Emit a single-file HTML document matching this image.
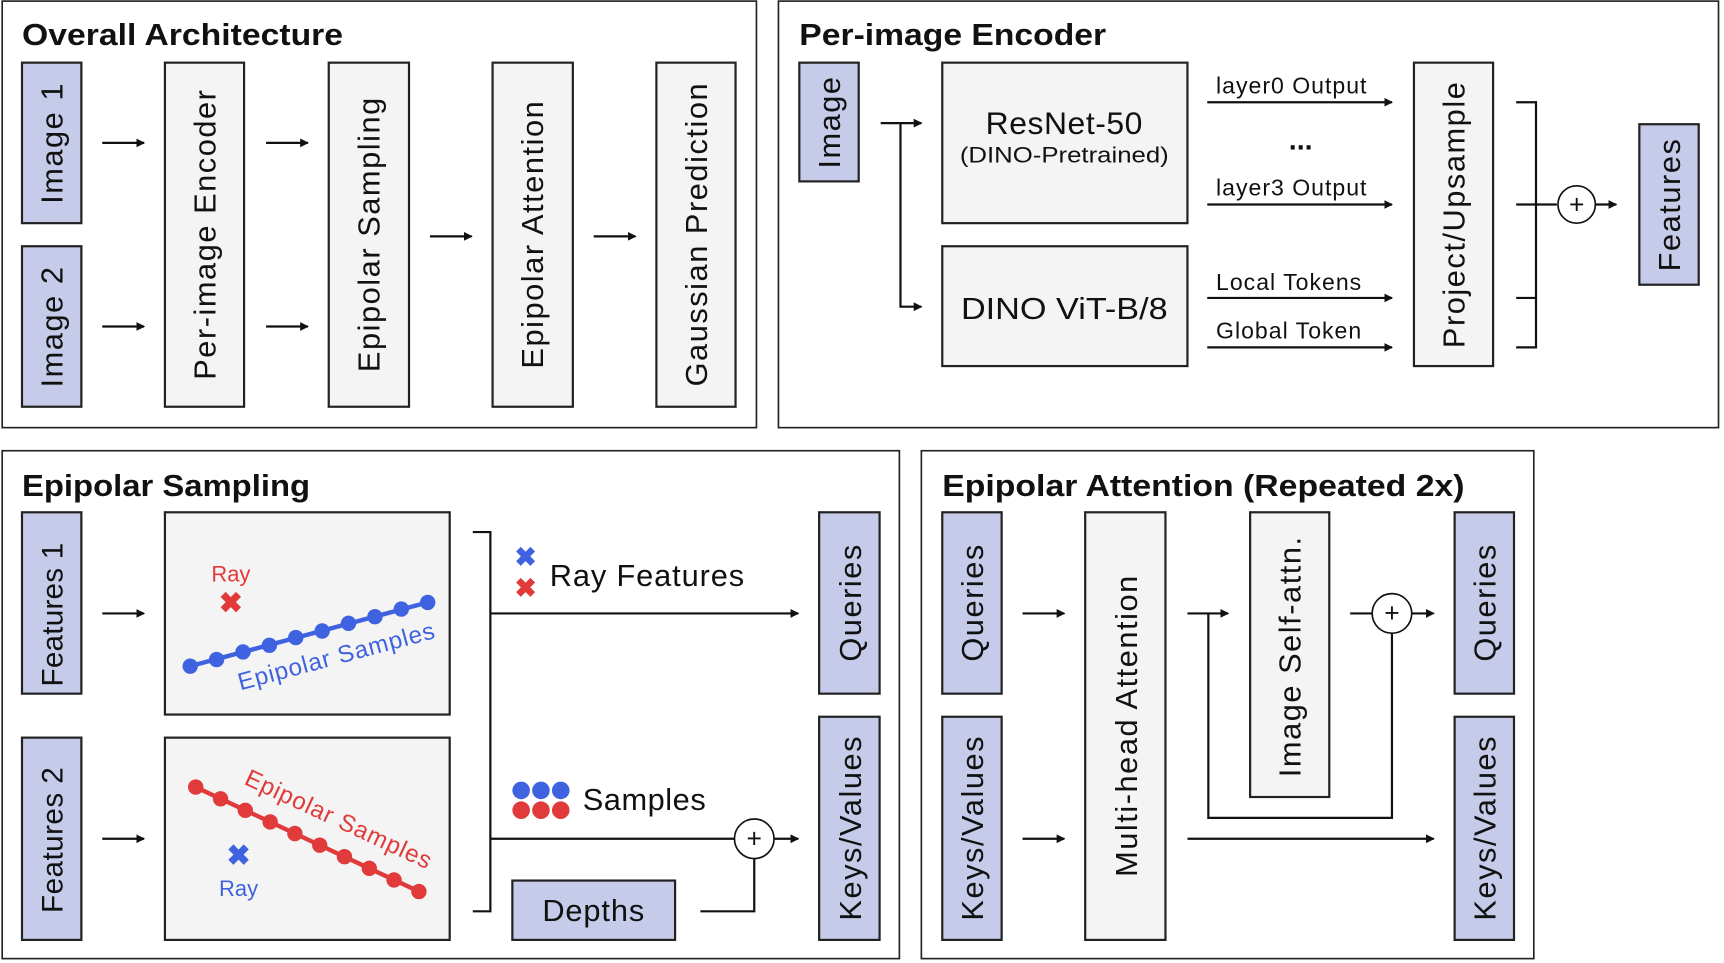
<!DOCTYPE html>
<html><head><meta charset="utf-8"><style>
html,body{margin:0;padding:0;background:#fff;}
svg{display:block;}
text{font-family:"Liberation Sans",sans-serif;fill:#111;}
.t{font-weight:bold;font-size:28px;}
.v{font-size:28px;letter-spacing:1.4px;}
.s{font-size:21px;letter-spacing:0.9px;}
.p{fill:#c5cbe8;stroke:#222;stroke-width:2;}
.g{fill:#f4f4f4;stroke:#222;stroke-width:2;}
.f{fill:none;stroke:#222;stroke-width:1.5;}
.l{fill:none;stroke:#111;stroke-width:2;}
</style></head><body>
<svg width="1724" height="963" viewBox="0 0 1568 876" preserveAspectRatio="none">
<defs><marker id="a" markerWidth="8" markerHeight="8" refX="7" refY="4" orient="auto" markerUnits="userSpaceOnUse"><path d="M0,0 L8,4 L0,8 z" fill="#111"/></marker></defs>
<!-- Panel 1 -->
<rect x="2" y="1" width="686" height="388" class="f"/>
<text x="20" y="41" class="t" textLength="292" lengthAdjust="spacingAndGlyphs">Overall Architecture</text>
<rect x="20" y="57" width="54" height="146" class="p"/>
<text class="v" text-anchor="middle" transform="translate(57,130) rotate(-90)">Image 1</text>
<rect x="20" y="224" width="54" height="146" class="p"/>
<text class="v" text-anchor="middle" transform="translate(57,297) rotate(-90)">Image 2</text>
<rect x="150" y="57" width="72" height="313" class="g"/>
<text class="v" text-anchor="middle" transform="translate(196,213) rotate(-90)">Per-image Encoder</text>
<rect x="299" y="57" width="73" height="313" class="g"/>
<text class="v" text-anchor="middle" transform="translate(345,213) rotate(-90)">Epipolar Sampling</text>
<rect x="448" y="57" width="73" height="313" class="g"/>
<text class="v" text-anchor="middle" transform="translate(494,213) rotate(-90)">Epipolar Attention</text>
<rect x="597" y="57" width="72" height="313" class="g"/>
<text class="v" text-anchor="middle" transform="translate(643,213) rotate(-90)">Gaussian Prediction</text>
<g class="l" marker-end="url(#a)">
<line x1="93" y1="130" x2="131" y2="130"/><line x1="93" y1="297" x2="131" y2="297"/>
<line x1="242" y1="130" x2="280" y2="130"/><line x1="242" y1="297" x2="280" y2="297"/>
<line x1="391" y1="215" x2="429" y2="215"/><line x1="540" y1="215" x2="578" y2="215"/>
</g>
<!-- Panel 2 -->
<rect x="708" y="1" width="855" height="388" class="f"/>
<text x="727" y="41" class="t" textLength="279" lengthAdjust="spacingAndGlyphs">Per-image Encoder</text>
<rect x="727" y="57" width="54" height="108" class="p"/>
<text class="v" text-anchor="middle" transform="translate(764,111) rotate(-90)">Image</text>
<path d="M801,112 H838" class="l" marker-end="url(#a)"/>
<path d="M819,112 V279 H838" class="l" marker-end="url(#a)"/>
<rect x="857" y="57" width="223" height="146" class="g"/>
<text x="968" y="122" text-anchor="middle" style="font-size:29px;letter-spacing:0.5px">ResNet-50</text>
<text x="968" y="148" text-anchor="middle" style="font-size:20px" textLength="190" lengthAdjust="spacingAndGlyphs">(DINO-Pretrained)</text>
<rect x="857" y="224" width="223" height="109" class="g"/>
<text x="968" y="290" text-anchor="middle" style="font-size:28px" textLength="188" lengthAdjust="spacingAndGlyphs">DINO ViT-B/8</text>
<g class="l" marker-end="url(#a)">
<line x1="1098" y1="93" x2="1266" y2="93"/><line x1="1098" y1="186" x2="1266" y2="186"/>
<line x1="1098" y1="271" x2="1266" y2="271"/><line x1="1098" y1="316" x2="1266" y2="316"/>
</g>
<text x="1106" y="85" class="s">layer0 Output</text>
<text x="1183" y="136" text-anchor="middle" style="font-size:26px;font-weight:bold">...</text>
<text x="1106" y="178" class="s">layer3 Output</text>
<text x="1106" y="264" class="s">Local Tokens</text>
<text x="1106" y="308" class="s">Global Token</text>
<rect x="1286" y="57" width="72" height="276" class="g"/>
<text class="v" text-anchor="middle" transform="translate(1332,195) rotate(-90)">Project/Upsample</text>
<path d="M1379,93 H1397 V316 H1379 M1379,271 H1397 M1379,186 H1416" class="l"/>
<circle cx="1434" cy="186" r="17" fill="#fff" stroke="#111" stroke-width="1.5"/>
<text x="1434" y="194" text-anchor="middle" style="font-size:24px">+</text>
<path d="M1451,186 H1470" class="l" marker-end="url(#a)"/>
<rect x="1491" y="113" width="54" height="146" class="p"/>
<text class="v" text-anchor="middle" transform="translate(1528,186) rotate(-90)">Features</text>
<!-- Panel 3 -->
<rect x="2" y="410" width="816" height="462" class="f"/>
<text x="20" y="451" class="t" textLength="262" lengthAdjust="spacingAndGlyphs">Epipolar Sampling</text>
<rect x="20" y="466" width="54" height="165" class="p"/>
<text text-anchor="middle" transform="translate(57,559) rotate(-90)" style="font-size:27px;letter-spacing:0.2px">Features 1</text>
<rect x="20" y="671" width="54" height="184" class="p"/>
<text text-anchor="middle" transform="translate(57,764) rotate(-90)" style="font-size:27px;letter-spacing:0.4px">Features 2</text>
<g class="l" marker-end="url(#a)">
<line x1="93" y1="558" x2="131" y2="558"/><line x1="93" y1="763" x2="131" y2="763"/>
</g>
<rect x="150" y="466" width="259" height="184" class="g"/>
<rect x="150" y="671" width="259" height="184" class="g"/>
<line x1="173" y1="606" x2="389" y2="548" stroke="#3f63e0" stroke-width="4"/>
<g fill="#3f63e0">
<circle cx="173" cy="606" r="7"/><circle cx="197" cy="600" r="7"/><circle cx="221" cy="593" r="7"/><circle cx="245" cy="587" r="7"/><circle cx="269" cy="580" r="7"/><circle cx="293" cy="574" r="7"/><circle cx="317" cy="567" r="7"/><circle cx="341" cy="561" r="7"/><circle cx="365" cy="554" r="7"/><circle cx="389" cy="548" r="7"/>
</g>
<text x="210" y="529" text-anchor="middle" style="font-size:20px;fill:#e03a3a">Ray</text>
<text x="210" y="557" text-anchor="middle" style="font-size:26px;font-weight:bold;fill:#e03a3a">✖</text>
<text transform="translate(308,604) rotate(-15)" text-anchor="middle" style="font-size:22px;fill:#3f63e0;letter-spacing:0.8px">Epipolar Samples</text>
<line x1="178" y1="716" x2="381" y2="811" stroke="#e03a3a" stroke-width="4"/>
<g fill="#e03a3a">
<circle cx="178" cy="716" r="7"/><circle cx="200.6" cy="726.6" r="7"/><circle cx="223.1" cy="737.1" r="7"/><circle cx="245.7" cy="747.7" r="7"/><circle cx="268.2" cy="758.2" r="7"/><circle cx="290.8" cy="768.8" r="7"/><circle cx="313.3" cy="779.3" r="7"/><circle cx="335.9" cy="789.9" r="7"/><circle cx="358.4" cy="800.4" r="7"/><circle cx="381" cy="811" r="7"/>
</g>
<text transform="translate(305,752) rotate(25)" text-anchor="middle" style="font-size:22px;fill:#e03a3a;letter-spacing:0.8px">Epipolar Samples</text>
<text x="217" y="787" text-anchor="middle" style="font-size:26px;font-weight:bold;fill:#3f63e0">✖</text>
<text x="217" y="815" text-anchor="middle" style="font-size:20px;fill:#3f63e0">Ray</text>
<path d="M430,484 H446 V829 H430" class="l"/>
<path d="M446,558 H726" class="l" marker-end="url(#a)"/>
<path d="M446,763 H668" class="l"/>
<circle cx="686" cy="763" r="18" fill="#fff" stroke="#111" stroke-width="1.5"/>
<text x="686" y="771" text-anchor="middle" style="font-size:24px">+</text>
<path d="M704,763 H726" class="l" marker-end="url(#a)"/>
<path d="M637,829 H686 V781" class="l"/>
<rect x="466" y="801" width="148" height="54" class="p"/>
<text x="540" y="838" text-anchor="middle" style="font-size:28px;letter-spacing:0.8px">Depths</text>
<text x="478" y="515" text-anchor="middle" style="font-size:24px;font-weight:bold;fill:#3f63e0">✖</text>
<text x="478" y="543" text-anchor="middle" style="font-size:24px;font-weight:bold;fill:#e03a3a">✖</text>
<text x="500" y="533" style="font-size:28px;letter-spacing:0.8px">Ray Features</text>
<g fill="#3f63e0"><circle cx="474" cy="719" r="8"/><circle cx="492" cy="719" r="8"/><circle cx="510" cy="719" r="8"/></g>
<g fill="#e03a3a"><circle cx="474" cy="737" r="8"/><circle cx="492" cy="737" r="8"/><circle cx="510" cy="737" r="8"/></g>
<text x="530" y="737" style="font-size:28px;letter-spacing:0.5px">Samples</text>
<rect x="745" y="466" width="55" height="165" class="p"/>
<text class="v" text-anchor="middle" transform="translate(783,548) rotate(-90)">Queries</text>
<rect x="745" y="652" width="55" height="203" class="p"/>
<text class="v" text-anchor="middle" transform="translate(783,753) rotate(-90)">Keys/Values</text>
<!-- Panel 4 -->
<rect x="838" y="410" width="557" height="462" class="f"/>
<text x="857" y="451" class="t" textLength="475" lengthAdjust="spacingAndGlyphs">Epipolar Attention (Repeated 2x)</text>
<rect x="857" y="466" width="54" height="165" class="p"/>
<text class="v" text-anchor="middle" transform="translate(894,548) rotate(-90)">Queries</text>
<rect x="857" y="652" width="54" height="203" class="p"/>
<text class="v" text-anchor="middle" transform="translate(894,753) rotate(-90)">Keys/Values</text>
<g class="l" marker-end="url(#a)">
<line x1="930" y1="558" x2="968" y2="558"/><line x1="930" y1="763" x2="968" y2="763"/>
<line x1="1080" y1="558" x2="1117" y2="558"/><line x1="1080" y1="763" x2="1304" y2="763"/>
<line x1="1284" y1="558" x2="1304" y2="558"/>
</g>
<rect x="987" y="466" width="73" height="389" class="g"/>
<text class="v" text-anchor="middle" transform="translate(1034,660) rotate(-90)">Multi-head Attention</text>
<rect x="1137" y="466" width="72" height="259" class="g"/>
<text class="v" text-anchor="middle" transform="translate(1183,597) rotate(-90)">Image Self-attn.</text>
<path d="M1099,558 V744 H1266 V576 M1228,558 H1248" class="l"/>
<circle cx="1266" cy="558" r="18" fill="#fff" stroke="#111" stroke-width="1.5"/>
<text x="1266" y="566" text-anchor="middle" style="font-size:24px">+</text>
<rect x="1323" y="466" width="54" height="165" class="p"/>
<text class="v" text-anchor="middle" transform="translate(1360,548) rotate(-90)">Queries</text>
<rect x="1323" y="652" width="54" height="203" class="p"/>
<text class="v" text-anchor="middle" transform="translate(1360,753) rotate(-90)">Keys/Values</text>
</svg>
</body></html>
